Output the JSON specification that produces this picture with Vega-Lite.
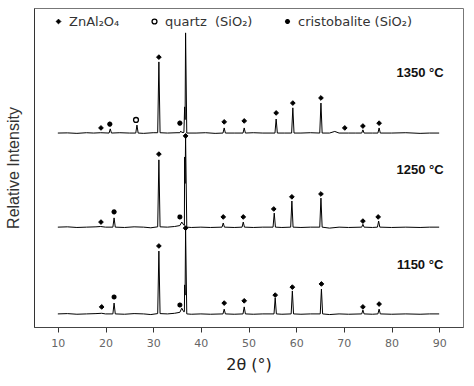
{
  "$schema": "https://vega.github.io/schema/vega-lite/v6.json",
  "width": 429,
  "height": 319,
  "autosize": {"type": "none"},
  "padding": {"left": 34, "top": 8, "right": 11, "bottom": 59},
  "config": {
    "view": {"stroke": "#777", "strokeWidth": 1},
    "font": "Liberation Sans"
  },
  "datasets": {
    "trace": [
      {"s":"1350","t":10,"v":60.8},{"s":"1350","t":12,"v":60.85},{"s":"1350","t":14,"v":60.7},{"s":"1350","t":16,"v":60.9},{"s":"1350","t":17.5,"v":60.8},{"s":"1350","t":19,"v":60.9},{"s":"1350","t":20.75,"v":60.8},{"s":"1350","t":21.0,"v":62.1},{"s":"1350","t":21.25,"v":60.8},{"s":"1350","t":23,"v":60.9},{"s":"1350","t":25,"v":60.8},{"s":"1350","t":26.35,"v":60.8},{"s":"1350","t":26.6,"v":63.3},{"s":"1350","t":26.85,"v":60.8},{"s":"1350","t":28,"v":60.7},{"s":"1350","t":30,"v":60.9},{"s":"1350","t":30.95,"v":60.9},{"s":"1350","t":31.2,"v":83.1},{"s":"1350","t":31.45,"v":60.9},{"s":"1350","t":33,"v":60.8},{"s":"1350","t":35,"v":60.9},{"s":"1350","t":35.6,"v":60.9},{"s":"1350","t":35.8,"v":61.4},{"s":"1350","t":36.0,"v":61.0},{"s":"1350","t":36.45,"v":61.0},{"s":"1350","t":36.6,"v":69.0},{"s":"1350","t":36.7,"v":65.0},{"s":"1350","t":36.8,"v":92.2},{"s":"1350","t":37.05,"v":60.8},{"s":"1350","t":39,"v":60.8},{"s":"1350","t":41,"v":60.9},{"s":"1350","t":43,"v":60.7},{"s":"1350","t":44.65,"v":60.8},{"s":"1350","t":44.9,"v":62.4},{"s":"1350","t":45.15,"v":60.8},{"s":"1350","t":47,"v":60.8},{"s":"1350","t":48.85,"v":60.8},{"s":"1350","t":49.1,"v":62.4},{"s":"1350","t":49.35,"v":60.8},{"s":"1350","t":51,"v":60.9},{"s":"1350","t":53,"v":60.8},{"s":"1350","t":55.55,"v":60.8},{"s":"1350","t":55.8,"v":65.2},{"s":"1350","t":56.05,"v":60.8},{"s":"1350","t":57.5,"v":60.8},{"s":"1350","t":59.05,"v":60.8},{"s":"1350","t":59.3,"v":68.7},{"s":"1350","t":59.55,"v":60.8},{"s":"1350","t":61,"v":60.8},{"s":"1350","t":63,"v":60.9},{"s":"1350","t":64.95,"v":60.8},{"s":"1350","t":65.2,"v":70.2},{"s":"1350","t":65.45,"v":60.8},{"s":"1350","t":67,"v":60.8},{"s":"1350","t":68.1,"v":61.3},{"s":"1350","t":69,"v":60.8},{"s":"1350","t":71,"v":60.8},{"s":"1350","t":72.5,"v":60.8},{"s":"1350","t":73.75,"v":60.8},{"s":"1350","t":74.0,"v":61.8},{"s":"1350","t":74.25,"v":60.8},{"s":"1350","t":76,"v":60.8},{"s":"1350","t":77.15,"v":60.8},{"s":"1350","t":77.4,"v":62.4},{"s":"1350","t":77.65,"v":60.8},{"s":"1350","t":80,"v":60.8},{"s":"1350","t":83,"v":60.9},{"s":"1350","t":86,"v":60.7},{"s":"1350","t":88,"v":60.8},{"s":"1350","t":90,"v":60.8},

      {"s":"1250","t":10,"v":31.3},{"s":"1250","t":12,"v":31.4},{"s":"1250","t":14,"v":31.2},{"s":"1250","t":16,"v":31.3},{"s":"1250","t":18,"v":31.4},{"s":"1250","t":19,"v":31.5},{"s":"1250","t":20,"v":31.3},{"s":"1250","t":21.55,"v":31.3},{"s":"1250","t":21.8,"v":34.2},{"s":"1250","t":22.05,"v":31.3},{"s":"1250","t":24,"v":31.2},{"s":"1250","t":26,"v":31.4},{"s":"1250","t":28,"v":31.3},{"s":"1250","t":29.5,"v":31.1},{"s":"1250","t":30.95,"v":31.4},{"s":"1250","t":31.2,"v":52.4},{"s":"1250","t":31.45,"v":31.4},{"s":"1250","t":33,"v":31.3},{"s":"1250","t":34.5,"v":31.5},{"s":"1250","t":35.6,"v":31.8},{"s":"1250","t":36.0,"v":32.9},{"s":"1250","t":36.4,"v":32.0},{"s":"1250","t":36.55,"v":31.8},{"s":"1250","t":36.6,"v":53.3},{"s":"1250","t":36.7,"v":45.0},{"s":"1250","t":36.8,"v":59.6},{"s":"1250","t":37.05,"v":31.3},{"s":"1250","t":38,"v":31.2},{"s":"1250","t":40,"v":31.3},{"s":"1250","t":42,"v":31.2},{"s":"1250","t":44.45,"v":31.3},{"s":"1250","t":44.7,"v":32.6},{"s":"1250","t":44.95,"v":31.3},{"s":"1250","t":47,"v":31.2},{"s":"1250","t":48.65,"v":31.3},{"s":"1250","t":48.9,"v":32.9},{"s":"1250","t":49.15,"v":31.3},{"s":"1250","t":51,"v":31.2},{"s":"1250","t":53,"v":31.3},{"s":"1250","t":55.15,"v":31.3},{"s":"1250","t":55.4,"v":35.7},{"s":"1250","t":55.65,"v":31.3},{"s":"1250","t":57,"v":31.2},{"s":"1250","t":58.85,"v":31.3},{"s":"1250","t":59.1,"v":39.5},{"s":"1250","t":59.35,"v":31.3},{"s":"1250","t":61,"v":31.2},{"s":"1250","t":63,"v":31.3},{"s":"1250","t":64.95,"v":31.3},{"s":"1250","t":65.2,"v":40.4},{"s":"1250","t":65.45,"v":31.3},{"s":"1250","t":67,"v":31.0},{"s":"1250","t":69,"v":31.3},{"s":"1250","t":71,"v":31.2},{"s":"1250","t":73.75,"v":31.3},{"s":"1250","t":74.0,"v":32.2},{"s":"1250","t":74.25,"v":31.3},{"s":"1250","t":76,"v":31.2},{"s":"1250","t":77.05,"v":31.3},{"s":"1250","t":77.3,"v":33.2},{"s":"1250","t":77.55,"v":31.3},{"s":"1250","t":80,"v":31.2},{"s":"1250","t":83,"v":31.3},{"s":"1250","t":86,"v":31.2},{"s":"1250","t":88,"v":31.3},{"s":"1250","t":90,"v":31.3},

      {"s":"1150","t":10,"v":4.1},{"s":"1150","t":12,"v":4.2},{"s":"1150","t":14,"v":4.0},{"s":"1150","t":16,"v":4.1},{"s":"1150","t":18,"v":4.2},{"s":"1150","t":19.2,"v":4.3},{"s":"1150","t":20,"v":4.1},{"s":"1150","t":21.55,"v":4.1},{"s":"1150","t":21.8,"v":7.5},{"s":"1150","t":22.05,"v":4.1},{"s":"1150","t":24,"v":4.0},{"s":"1150","t":26,"v":4.2},{"s":"1150","t":28,"v":4.1},{"s":"1150","t":29.5,"v":3.9},{"s":"1150","t":30.95,"v":4.2},{"s":"1150","t":31.2,"v":23.8},{"s":"1150","t":31.45,"v":4.2},{"s":"1150","t":33,"v":4.1},{"s":"1150","t":34.5,"v":4.3},{"s":"1150","t":35.6,"v":4.6},{"s":"1150","t":36.0,"v":5.9},{"s":"1150","t":36.4,"v":4.8},{"s":"1150","t":36.55,"v":4.8},{"s":"1150","t":36.6,"v":13.2},{"s":"1150","t":36.7,"v":10.0},{"s":"1150","t":36.8,"v":30.7},{"s":"1150","t":37.05,"v":4.1},{"s":"1150","t":38,"v":4.0},{"s":"1150","t":40,"v":4.1},{"s":"1150","t":42,"v":4.0},{"s":"1150","t":44.65,"v":4.1},{"s":"1150","t":44.9,"v":5.6},{"s":"1150","t":45.15,"v":4.1},{"s":"1150","t":47,"v":4.0},{"s":"1150","t":48.85,"v":4.1},{"s":"1150","t":49.1,"v":6.3},{"s":"1150","t":49.35,"v":4.1},{"s":"1150","t":51,"v":4.0},{"s":"1150","t":53,"v":4.1},{"s":"1150","t":55.35,"v":4.1},{"s":"1150","t":55.6,"v":9.1},{"s":"1150","t":55.85,"v":4.1},{"s":"1150","t":57,"v":4.0},{"s":"1150","t":58.95,"v":4.1},{"s":"1150","t":59.2,"v":11.3},{"s":"1150","t":59.45,"v":4.1},{"s":"1150","t":61,"v":4.0},{"s":"1150","t":63,"v":4.1},{"s":"1150","t":65.05,"v":4.1},{"s":"1150","t":65.3,"v":11.9},{"s":"1150","t":65.55,"v":4.1},{"s":"1150","t":67,"v":3.9},{"s":"1150","t":69,"v":4.1},{"s":"1150","t":71,"v":4.0},{"s":"1150","t":73.75,"v":4.1},{"s":"1150","t":74.0,"v":5.3},{"s":"1150","t":74.25,"v":4.1},{"s":"1150","t":76,"v":4.0},{"s":"1150","t":77.15,"v":4.1},{"s":"1150","t":77.4,"v":5.6},{"s":"1150","t":77.65,"v":4.1},{"s":"1150","t":80,"v":4.0},{"s":"1150","t":83,"v":4.1},{"s":"1150","t":86,"v":4.0},{"s":"1150","t":88,"v":4.1},{"s":"1150","t":90,"v":4.1}
    ],
    "markers": [
      {"p":"ZnAl₂O₄","t":19.05,"v":62.4},{"p":"cristobalite (SiO₂)","t":20.9,"v":63.6},{"p":"quartz\u00a0\u00a0(SiO₂)","t":26.4,"v":64.9},{"p":"ZnAl₂O₄","t":31.2,"v":84.6},{"p":"cristobalite (SiO₂)","t":35.6,"v":63.9},{"p":"ZnAl₂O₄","t":44.9,"v":64.3},{"p":"ZnAl₂O₄","t":49.1,"v":64.6},{"p":"ZnAl₂O₄","t":55.8,"v":67.1},{"p":"ZnAl₂O₄","t":59.3,"v":70.2},{"p":"ZnAl₂O₄","t":65.2,"v":71.8},{"p":"ZnAl₂O₄","t":70.2,"v":62.4},{"p":"ZnAl₂O₄","t":74.0,"v":63.0},{"p":"ZnAl₂O₄","t":77.4,"v":63.9},
      {"p":"ZnAl₂O₄","t":19.05,"v":32.9},{"p":"cristobalite (SiO₂)","t":21.8,"v":36.1},{"p":"ZnAl₂O₄","t":31.2,"v":54.2},{"p":"cristobalite (SiO₂)","t":35.6,"v":34.5},{"p":"ZnAl₂O₄","t":36.8,"v":59.9},{"p":"ZnAl₂O₄","t":44.7,"v":34.5},{"p":"ZnAl₂O₄","t":48.9,"v":34.5},{"p":"ZnAl₂O₄","t":55.3,"v":37.0},{"p":"ZnAl₂O₄","t":59.1,"v":40.8},{"p":"ZnAl₂O₄","t":65.2,"v":41.7},{"p":"ZnAl₂O₄","t":74.0,"v":33.2},{"p":"ZnAl₂O₄","t":77.2,"v":34.5},
      {"p":"ZnAl₂O₄","t":19.2,"v":6.3},{"p":"cristobalite (SiO₂)","t":21.8,"v":9.4},{"p":"ZnAl₂O₄","t":31.2,"v":25.4},{"p":"cristobalite (SiO₂)","t":35.6,"v":6.9},{"p":"ZnAl₂O₄","t":36.8,"v":31.0},{"p":"ZnAl₂O₄","t":44.9,"v":7.5},{"p":"ZnAl₂O₄","t":49.1,"v":8.2},{"p":"ZnAl₂O₄","t":55.6,"v":10.0},{"p":"ZnAl₂O₄","t":59.2,"v":12.5},{"p":"ZnAl₂O₄","t":65.3,"v":13.5},{"p":"ZnAl₂O₄","t":74.0,"v":6.3},{"p":"ZnAl₂O₄","t":77.4,"v":7.2}
    ],
    "labels": [
      {"label":"1350 °C","t":86,"v":79.6},
      {"label":"1250 °C","t":86,"v":49.2},
      {"label":"1150 °C","t":86,"v":19.4}
    ]
  },
  "layer": [
    {
      "data": {"name": "trace"},
      "mark": {"type": "line", "color": "#000", "strokeWidth": 1, "interpolate": "linear"},
      "encoding": {
        "x": {
          "field": "t", "type": "quantitative",
          "scale": {"domain": [5, 95], "nice": false, "zero": false},
          "axis": {
            "title": "2θ (°)",
            "values": [10,15,20,25,30,35,40,45,50,55,60,65,70,75,80,85,90],
            "labelExpr": "datum.value % 10 === 0 ? datum.label : ''",
            "tickSize": {"condition": {"test": "datum.value % 10 === 0", "value": 5}, "value": 3},
            "tickColor": "#333",
            "domainColor": "#444",
            "grid": false,
            "labelFont": "DejaVu Sans",
            "labelFontSize": 11,
            "labelColor": "#666",
            "labelPadding": 5,
            "titleFont": "DejaVu Sans",
            "titleFontSize": 16,
            "titleFontWeight": "normal",
            "titleColor": "#222",
            "titlePadding": 8
          }
        },
        "y": {
          "field": "v", "type": "quantitative",
          "scale": {"domain": [0, 100], "nice": false},
          "axis": {
            "title": "Relative Intensity",
            "labels": false,
            "ticks": false,
            "grid": false,
            "domainColor": "#333",
            "titleFontSize": 16,
            "titleFontWeight": "normal",
            "titleColor": "#333",
            "titlePadding": 13
          }
        },
        "detail": {"field": "s"}
      }
    },
    {
      "data": {"name": "markers"},
      "mark": {"type": "point", "stroke": "#000", "opacity": 1},
      "encoding": {
        "x": {"field": "t", "type": "quantitative"},
        "y": {"field": "v", "type": "quantitative"},
        "shape": {
          "field": "p", "type": "nominal",
          "scale": {
            "domain": ["ZnAl₂O₄", "quartz\u00a0\u00a0(SiO₂)", "cristobalite (SiO₂)"],
            "range": ["diamond", "circle", "M-1,0L1,0M0,-1L0,1M-0.7,-0.7L0.7,0.7M-0.7,0.7L0.7,-0.7"]
          },
          "legend": {
            "title": null, "orient": "none", "legendX": 18, "legendY": 7, "direction": "horizontal",
            "gridAlign": "none", "columnPadding": 28, "labelOffset": 4,
            "labelFont": "DejaVu Sans", "labelFontSize": 13, "labelColor": "#333",
            "encode": {"symbols": {"update": {"stroke": {"value": "#000"}}}}
          }
        },
        "fill": {
          "field": "p", "type": "nominal",
          "scale": {
            "domain": ["ZnAl₂O₄", "quartz\u00a0\u00a0(SiO₂)", "cristobalite (SiO₂)"],
            "range": ["#000", "#fff", "#000"]
          },
          "legend": {
            "title": null, "orient": "none", "legendX": 18, "legendY": 7, "direction": "horizontal",
            "gridAlign": "none", "columnPadding": 28, "labelOffset": 4,
            "labelFont": "DejaVu Sans", "labelFontSize": 13, "labelColor": "#333",
            "encode": {"symbols": {"update": {"stroke": {"value": "#000"}}}}
          }
        },
        "size": {
          "field": "p", "type": "nominal",
          "scale": {
            "domain": ["ZnAl₂O₄", "quartz\u00a0\u00a0(SiO₂)", "cristobalite (SiO₂)"],
            "range": [22, 26, 120]
          },
          "legend": {
            "title": null, "orient": "none", "legendX": 18, "legendY": 7, "direction": "horizontal",
            "gridAlign": "none", "columnPadding": 28, "labelOffset": 4,
            "labelFont": "DejaVu Sans", "labelFontSize": 13, "labelColor": "#333",
            "encode": {"symbols": {"update": {"stroke": {"value": "#000"}}}}
          }
        },
        "strokeWidth": {
          "field": "p", "type": "nominal",
          "scale": {
            "domain": ["ZnAl₂O₄", "quartz\u00a0\u00a0(SiO₂)", "cristobalite (SiO₂)"],
            "range": [1, 1.6, 0.9]
          },
          "legend": {
            "title": null, "orient": "none", "legendX": 18, "legendY": 7, "direction": "horizontal",
            "gridAlign": "none", "columnPadding": 28, "labelOffset": 4,
            "labelFont": "DejaVu Sans", "labelFontSize": 13, "labelColor": "#333",
            "encode": {"symbols": {"update": {"stroke": {"value": "#000"}}}}
          }
        }
      }
    },
    {
      "data": {"name": "labels"},
      "mark": {"type": "text", "fontSize": 13, "fontWeight": "bold", "color": "#111", "align": "center", "baseline": "middle"},
      "encoding": {
        "x": {"field": "t", "type": "quantitative"},
        "y": {"field": "v", "type": "quantitative"},
        "text": {"field": "label"}
      }
    }
  ]
}
